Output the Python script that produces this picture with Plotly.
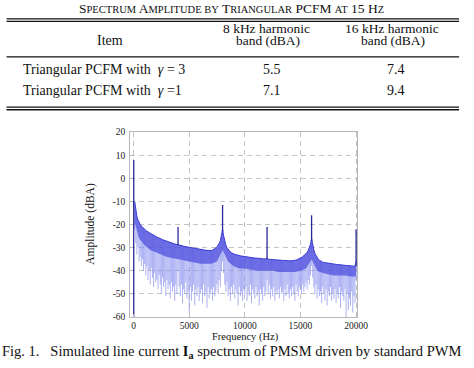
import plotly.graph_objects as go

W, H = 474, 368

# ---------------- data ----------------
freq = list(range(100, 20001, 100))  # Hz grid of the band
upper = [
    -10, -14, -16.5, -18, -19.2, -20, -20.6, -21.2, -21.6, -22.1,
    -22.5, -22.9, -23.2, -23.6, -23.9, -24.1, -24.4, -24.7, -24.9, -25.2,
    -25.4, -25.6, -25.9, -26.1, -26.3, -26.5, -26.7, -26.9, -27.0, -27.2,
    -27.4, -27.6, -27.7, -27.9, -28.1, -28.2, -28.4, -28.5, -28.6, -28.5,
    -28.8, -29.0, -29.1, -29.2, -29.4, -29.5, -29.6, -29.7, -29.8, -29.9,
    -30.0, -30.1, -30.2, -30.3, -30.4, -30.5, -30.5, -30.6, -30.7, -30.8,
    -30.9, -30.9, -31.0, -31.1, -31.1, -31.2, -31.2, -31.3, -31.3, -31.2,
    -31.0, -30.8, -30.5, -30.1, -29.6, -29.0, -28.2, -27.0, -25.0, -22.0,
    -25.0, -27.5, -29.0, -30.0, -30.8, -31.4, -31.9, -32.2, -32.5, -32.7,
    -32.9, -33.0, -33.2, -33.3, -33.4, -33.5, -33.6, -33.7, -33.8, -33.9,
    -34.0, -34.0, -34.1, -34.2, -34.2, -34.3, -34.4, -34.4, -34.5, -34.5,
    -34.6, -34.6, -34.7, -34.7, -34.8, -34.8, -34.8, -34.9, -34.9, -34.5,
    -35.0, -35.0, -35.1, -35.1, -35.2, -35.2, -35.2, -35.3, -35.3, -35.4,
    -35.4, -35.4, -35.5, -35.5, -35.5, -35.6, -35.6, -35.6, -35.7, -35.7,
    -35.7, -35.7, -35.6, -35.6, -35.5, -35.4, -35.2, -35.0, -34.8, -34.5,
    -34.2, -33.9, -33.5, -33.1, -32.6, -32.0, -31.2, -30.2, -28.5, -26.0,
    -29.0, -31.0, -32.5, -33.6, -34.4, -35.0, -35.4, -35.8, -36.1, -36.3,
    -36.4, -36.5, -36.6, -36.7, -36.8, -36.9, -37.0, -37.0, -37.1, -37.1,
    -37.2, -37.2, -37.3, -37.3, -37.4, -37.4, -37.5, -37.5, -37.6, -37.6,
    -37.7, -37.7, -37.8, -37.8, -37.8, -37.9, -37.9, -38.0, -38.0, -36.0,
]
lower = [
    -22, -28, -33, -30, -36, -34, -38, -35, -40, -37,
    -42, -38, -44, -40, -46, -39, -43, -47, -41, -45,
    -44, -48, -42, -46, -50, -43, -47, -45, -51, -44,
    -48, -46, -52, -45, -49, -47, -53, -46, -50, -40,
    -47, -51, -46, -54, -48, -50, -45, -52, -49, -58,
    -47, -53, -49, -46, -55, -48, -51, -47, -53, -50,
    -48, -54, -46, -51, -49, -56, -47, -52, -50, -48,
    -53, -47, -51, -49, -46, -50, -44, -47, -40, -36,
    -41, -46, -49, -45, -51, -48, -53, -47, -50, -46,
    -52, -48, -50, -55, -47, -51, -49, -53, -48, -50,
    -47, -53, -49, -51, -46, -54, -48, -50, -52, -47,
    -51, -49, -55, -48, -50, -53, -47, -51, -49, -44,
    -50, -46, -52, -48, -51, -47, -53, -49, -50, -48,
    -52, -47, -50, -49, -53, -48, -51, -46, -50, -52,
    -48, -51, -47, -50, -53, -46, -49, -51, -47, -48,
    -50, -46, -49, -47, -45, -48, -44, -46, -42, -38,
    -43, -47, -50, -46, -52, -48, -51, -49, -54, -47,
    -50, -53, -48, -55, -49, -51, -47, -53, -50, -52,
    -48, -54, -50, -52, -47, -56, -49, -51, -53, -48,
    -60, -50, -57, -52, -55, -49, -58, -51, -54, -44,
]
floor_freq = [100] + list(range(500, 20001, 500))
band_floor = [
    -19, -26, -29, -31, -32, -33, -34, -34.5, -35, -35.5,
    -36, -36.5, -37, -37, -37, -36, -31, -36, -38, -39,
    -39, -39.5, -40, -40, -40, -40, -40.5, -40.5, -40.5, -40.5,
    -40, -39, -35, -40, -41, -41.5, -42, -42, -42, -42.5, -42.5,
]
peak_freq = [15, 4000, 8000, 12000, 16000, 20000]
peak_top = [8, -21, -11.5, -21, -16, -22]
peak_base = [-60, -29, -23, -35, -27, -38]

x_ticks = [0, 5000, 10000, 15000, 20000]
x_ticktext = ["0", "5000", "10000", "15000", "20000"]
y_ticks = [20, 10, 0, -10, -20, -30, -40, -50, -60]
y_ticktext = ["20", "10", "0", "-10", "-20", "-30", "-40", "-50", "-60"]

table_title = ("S<span style='font-size:10.5px'>PECTRUM</span> "
               "A<span style='font-size:10.5px'>MPLITUDE BY</span> "
               "T<span style='font-size:10.5px'>RIANGULAR</span> PCFM "
               "<span style='font-size:10.5px'>AT</span> 15 H"
               "<span style='font-size:10.5px'>Z</span>")
col_head = ["Item", ["8 kHz harmonic", "band (dBA)"], ["16 kHz harmonic", "band (dBA)"]]
row_labels = ["Triangular PCFM with\u00a0 <i>γ</i> = 3", "Triangular PCFM with\u00a0 <i>γ</i> =1"]
band8 = ["5.5", "7.1"]
band16 = ["7.4", "9.4"]
caption = ("Fig. 1.\u00a0\u00a0\u00a0Simulated line current <b>I</b><sub><b>a</b></sub> "
           "spectrum of PMSM driven by standard PWM")

SERIF = "Liberation Serif, Times New Roman, serif"

def px(x):
    return x / W

def py(y):
    return 1 - y / H

fig = go.Figure()

# light dips: vertical segments from top of band to each dip
xs, ys = [], []
for f, u, l in zip(freq, upper, lower):
    xs += [f, f, None]
    ys += [u, l, None]
fig.add_trace(go.Scatter(x=xs, y=ys, mode="lines",
                         line=dict(color="rgba(135,142,238,0.7)", width=1),
                         hoverinfo="skip", showlegend=False))

# dense dark band
fig.add_trace(go.Scatter(x=freq, y=upper, mode="lines",
                         line=dict(color="rgb(60,60,210)", width=1),
                         hoverinfo="skip", showlegend=False))
fig.add_trace(go.Scatter(x=floor_freq, y=band_floor, mode="lines",
                         line=dict(color="rgba(0,0,0,0)", width=0),
                         fill="tonexty", fillcolor="rgba(70,70,220,0.68)",
                         hoverinfo="skip", showlegend=False))

# harmonic spikes
pxs, pys = [], []
for f, t, b in zip(peak_freq, peak_top, peak_base):
    pxs += [f, f, None]
    pys += [b, t, None]
fig.add_trace(go.Scatter(x=pxs, y=pys, mode="lines",
                         line=dict(color="rgb(40,40,150)", width=1.3),
                         hoverinfo="skip", showlegend=False))

ax_common = dict(showline=True, mirror=True, linecolor="#b8b8b8", linewidth=1,
                 showgrid=True, gridcolor="#c4c4c4", griddash="5px,4px", gridwidth=1,
                 zeroline=False, ticks="inside", ticklen=3, tickcolor="#b8b8b8",
                 tickfont=dict(family=SERIF, size=9.5, color="#222"))

fig.update_layout(
    width=W, height=H, margin=dict(l=0, r=0, t=0, b=0),
    paper_bgcolor="white", plot_bgcolor="white",
    xaxis=dict(domain=[px(133.3), px(365.7)], range=[-300, 20100],
               tickvals=x_ticks, ticktext=x_ticktext, **ax_common),
    yaxis=dict(domain=[py(320.7), py(130.7)], range=[-60, 20],
               tickvals=y_ticks, ticktext=y_ticktext, ticklabelstandoff=2, **ax_common),
)

ann = []
def text(x, y, s, size=14, xanchor="center", yanchor="middle", angle=0):
    ann.append(dict(x=px(x), y=py(y), xref="paper", yref="paper", text=s,
                    showarrow=False, xanchor=xanchor, yanchor=yanchor, textangle=angle,
                    font=dict(family=SERIF, size=size, color="#111")))

text(237.5, 4.0, table_title, size=13.5)
text(113, 36.5, col_head[0])
text(273, 24.0, col_head[1][0], size=13.5); text(274, 37.0, col_head[1][1], size=13.5)
text(401, 24.0, col_head[2][0], size=13.5); text(402, 37.0, col_head[2][1], size=13.5)
for i, yy in enumerate([66.7, 88.3]):
    text(21.7, yy, row_labels[i], xanchor="left")
    text(278, yy, band8[i])
    text(405, yy, band16[i])
text(93, 225, "Amplitude (dBA)", size=11.5, angle=-90)
text(251, 341, "Frequency (Hz)", size=10.5)
text(237, 357, caption, size=14.5)
fig.update_layout(annotations=ann)

shapes = []
for yy, w in [(14.2, 1.3), (16.8, 1.3), (53.3, 1.2), (105.0, 1.3), (107.7, 1.3)]:
    shapes.append(dict(type="line", xref="paper", yref="paper",
                       x0=px(6.7), x1=px(470), y0=py(yy), y1=py(yy),
                       line=dict(color="#111", width=w)))
fig.update_layout(shapes=shapes)

fig.write_html("out.html", config={"displayModeBar": False},
               post_script="document.body.style.margin='0';document.body.style.overflow='hidden';")
